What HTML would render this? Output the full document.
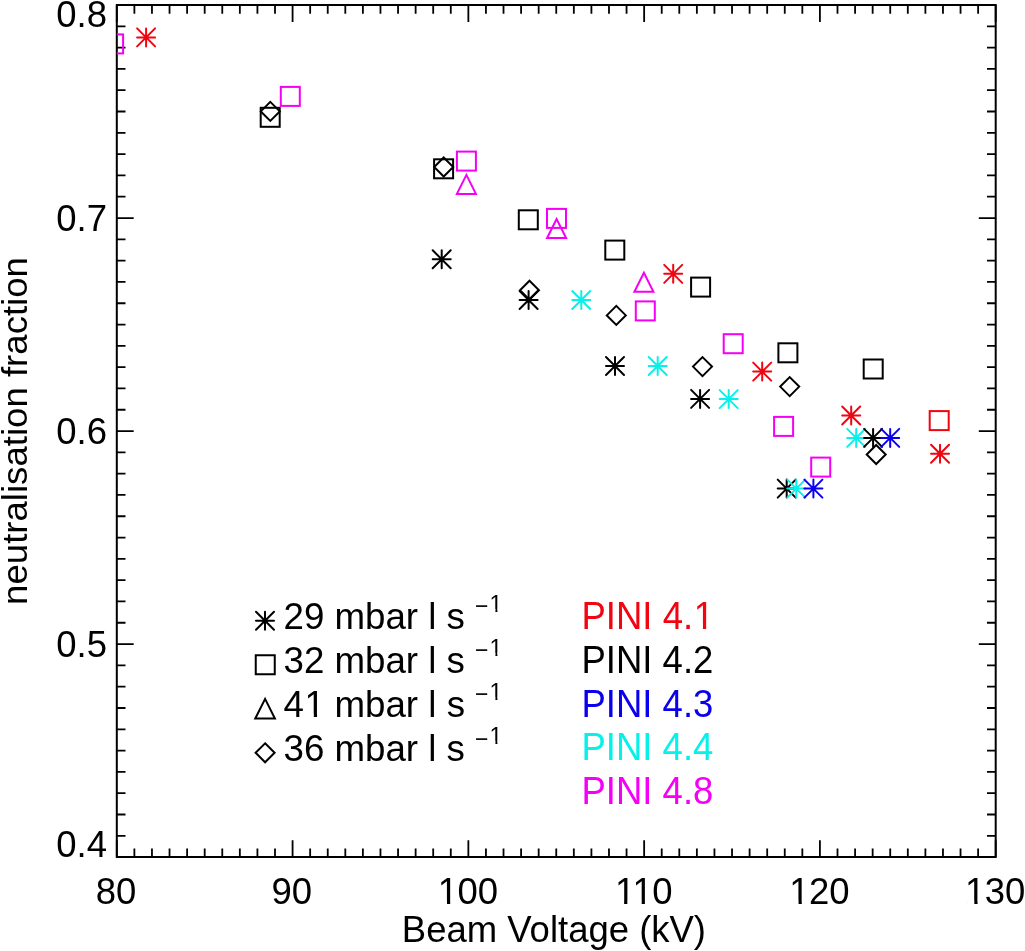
<!DOCTYPE html><html><head><meta charset="utf-8"><style>html,body{margin:0;padding:0;background:#fff;}svg{display:block;will-change:transform;}text{font-family:"Liberation Sans",sans-serif;}</style></head><body>
<svg width="1025" height="951" viewBox="0 0 1025 951">
<rect width="1025" height="951" fill="#fff"/>
<defs><clipPath id="pc"><rect x="116.8" y="5.0" width="878.9000000000001" height="852.1"/></clipPath></defs>
<path d="M116.80 857.1v-16.9M116.80 5.0v16.9M134.38 857.1v-8.7M134.38 5.0v8.7M151.96 857.1v-8.7M151.96 5.0v8.7M169.53 857.1v-8.7M169.53 5.0v8.7M187.11 857.1v-8.7M187.11 5.0v8.7M204.69 857.1v-8.7M204.69 5.0v8.7M222.27 857.1v-8.7M222.27 5.0v8.7M239.85 857.1v-8.7M239.85 5.0v8.7M257.42 857.1v-8.7M257.42 5.0v8.7M275.00 857.1v-8.7M275.00 5.0v8.7M292.58 857.1v-16.9M292.58 5.0v16.9M310.16 857.1v-8.7M310.16 5.0v8.7M327.74 857.1v-8.7M327.74 5.0v8.7M345.31 857.1v-8.7M345.31 5.0v8.7M362.89 857.1v-8.7M362.89 5.0v8.7M380.47 857.1v-8.7M380.47 5.0v8.7M398.05 857.1v-8.7M398.05 5.0v8.7M415.63 857.1v-8.7M415.63 5.0v8.7M433.20 857.1v-8.7M433.20 5.0v8.7M450.78 857.1v-8.7M450.78 5.0v8.7M468.36 857.1v-16.9M468.36 5.0v16.9M485.94 857.1v-8.7M485.94 5.0v8.7M503.52 857.1v-8.7M503.52 5.0v8.7M521.09 857.1v-8.7M521.09 5.0v8.7M538.67 857.1v-8.7M538.67 5.0v8.7M556.25 857.1v-8.7M556.25 5.0v8.7M573.83 857.1v-8.7M573.83 5.0v8.7M591.41 857.1v-8.7M591.41 5.0v8.7M608.98 857.1v-8.7M608.98 5.0v8.7M626.56 857.1v-8.7M626.56 5.0v8.7M644.14 857.1v-16.9M644.14 5.0v16.9M661.72 857.1v-8.7M661.72 5.0v8.7M679.30 857.1v-8.7M679.30 5.0v8.7M696.87 857.1v-8.7M696.87 5.0v8.7M714.45 857.1v-8.7M714.45 5.0v8.7M732.03 857.1v-8.7M732.03 5.0v8.7M749.61 857.1v-8.7M749.61 5.0v8.7M767.19 857.1v-8.7M767.19 5.0v8.7M784.76 857.1v-8.7M784.76 5.0v8.7M802.34 857.1v-8.7M802.34 5.0v8.7M819.92 857.1v-16.9M819.92 5.0v16.9M837.50 857.1v-8.7M837.50 5.0v8.7M855.08 857.1v-8.7M855.08 5.0v8.7M872.65 857.1v-8.7M872.65 5.0v8.7M890.23 857.1v-8.7M890.23 5.0v8.7M907.81 857.1v-8.7M907.81 5.0v8.7M925.39 857.1v-8.7M925.39 5.0v8.7M942.97 857.1v-8.7M942.97 5.0v8.7M960.54 857.1v-8.7M960.54 5.0v8.7M978.12 857.1v-8.7M978.12 5.0v8.7M995.70 857.1v-16.9M995.70 5.0v16.9M116.8 857.10h16.9M995.7 857.10h-16.9M116.8 835.80h8.7M995.7 835.80h-8.7M116.8 814.50h8.7M995.7 814.50h-8.7M116.8 793.19h8.7M995.7 793.19h-8.7M116.8 771.89h8.7M995.7 771.89h-8.7M116.8 750.59h8.7M995.7 750.59h-8.7M116.8 729.29h8.7M995.7 729.29h-8.7M116.8 707.98h8.7M995.7 707.98h-8.7M116.8 686.68h8.7M995.7 686.68h-8.7M116.8 665.38h8.7M995.7 665.38h-8.7M116.8 644.08h16.9M995.7 644.08h-16.9M116.8 622.77h8.7M995.7 622.77h-8.7M116.8 601.47h8.7M995.7 601.47h-8.7M116.8 580.17h8.7M995.7 580.17h-8.7M116.8 558.87h8.7M995.7 558.87h-8.7M116.8 537.56h8.7M995.7 537.56h-8.7M116.8 516.26h8.7M995.7 516.26h-8.7M116.8 494.96h8.7M995.7 494.96h-8.7M116.8 473.65h8.7M995.7 473.65h-8.7M116.8 452.35h8.7M995.7 452.35h-8.7M116.8 431.05h16.9M995.7 431.05h-16.9M116.8 409.75h8.7M995.7 409.75h-8.7M116.8 388.45h8.7M995.7 388.45h-8.7M116.8 367.14h8.7M995.7 367.14h-8.7M116.8 345.84h8.7M995.7 345.84h-8.7M116.8 324.54h8.7M995.7 324.54h-8.7M116.8 303.24h8.7M995.7 303.24h-8.7M116.8 281.93h8.7M995.7 281.93h-8.7M116.8 260.63h8.7M995.7 260.63h-8.7M116.8 239.33h8.7M995.7 239.33h-8.7M116.8 218.03h16.9M995.7 218.03h-16.9M116.8 196.72h8.7M995.7 196.72h-8.7M116.8 175.42h8.7M995.7 175.42h-8.7M116.8 154.12h8.7M995.7 154.12h-8.7M116.8 132.82h8.7M995.7 132.82h-8.7M116.8 111.51h8.7M995.7 111.51h-8.7M116.8 90.21h8.7M995.7 90.21h-8.7M116.8 68.91h8.7M995.7 68.91h-8.7M116.8 47.61h8.7M995.7 47.61h-8.7M116.8 26.30h8.7M995.7 26.30h-8.7M116.8 5.00h16.9M995.7 5.00h-16.9" fill="none" stroke="#000" stroke-width="1.8"/>
<path d="M116.8 5.0H995.7V857.1H116.8Z" fill="none" stroke="#000" stroke-width="2"/>
<text transform="translate(56.25,27.20) scale(1,1.037)" font-size="36.5">0.8</text>
<text transform="translate(56.25,231.00) scale(1,1.037)" font-size="36.5">0.7</text>
<text transform="translate(56.25,444.00) scale(1,1.037)" font-size="36.5">0.6</text>
<text transform="translate(56.25,657.00) scale(1,1.037)" font-size="36.5">0.5</text>
<text transform="translate(56.25,857.00) scale(1,1.037)" font-size="36.5">0.4</text>
<text transform="translate(95.70,904.40) scale(1,1.037)" font-size="36.5">80</text>
<text transform="translate(271.48,904.40) scale(1,1.037)" font-size="36.5">90</text>
<text transform="translate(437.11,904.40) scale(1,1.037)" font-size="36.5" dx="0.69 -0.69" clip-path="url(#k1)">100</text>
<text transform="translate(614.24,904.40) scale(1,1.037)" font-size="36.5" dx="0.69 0 -0.69" clip-path="url(#k2)">110</text>
<text transform="translate(788.67,904.40) scale(1,1.037)" font-size="36.5" dx="0.69 -0.69" clip-path="url(#k3)">120</text>
<text transform="translate(964.45,904.40) scale(1,1.037)" font-size="36.5" dx="0.69 -0.69" clip-path="url(#k4)">130</text>
<text transform="translate(401.84,942.00) scale(1,1.012)" font-size="36.5">Beam Voltage (kV)</text>
<text transform="translate(27.4,431) scale(1,1.052) rotate(-90)" font-size="34.8" text-anchor="middle">neutralisation fraction</text>
<g clip-path="url(#pc)">
<rect x="104.10" y="34.40" width="19.00" height="19.00" fill="none" stroke="#f500f5" stroke-width="2.0"/>
<path d="M137.10 37.40H155.10M146.10 28.40V46.40M137.10 28.40L155.10 46.40M137.10 46.40L155.10 28.40" fill="none" stroke="#f00510" stroke-width="2.0" stroke-linecap="round"/>
<rect x="260.70" y="107.80" width="19.00" height="19.00" fill="none" stroke="#000000" stroke-width="2.0"/>
<polygon points="270.30,101.90 279.80,111.40 270.30,120.90 260.80,111.40" fill="none" stroke="#000000" stroke-width="2.0"/>
<rect x="280.80" y="86.90" width="19.00" height="19.00" fill="none" stroke="#f500f5" stroke-width="2.0"/>
<rect x="434.10" y="159.30" width="19.00" height="19.00" fill="none" stroke="#000000" stroke-width="2.0"/>
<polygon points="443.70,157.50 453.20,167.00 443.70,176.50 434.20,167.00" fill="none" stroke="#000000" stroke-width="2.0"/>
<rect x="456.90" y="151.60" width="19.00" height="19.00" fill="none" stroke="#f500f5" stroke-width="2.0"/>
<polygon points="456.90,193.90 466.40,174.90 475.90,193.90" fill="none" stroke="#f500f5" stroke-width="2.0" stroke-linejoin="miter"/>
<path d="M432.70 259.30H450.70M441.70 250.30V268.30M432.70 250.30L450.70 268.30M432.70 268.30L450.70 250.30" fill="none" stroke="#000000" stroke-width="2.0" stroke-linecap="round"/>
<rect x="518.80" y="210.30" width="19.00" height="19.00" fill="none" stroke="#000000" stroke-width="2.0"/>
<rect x="547.00" y="208.90" width="19.00" height="19.00" fill="none" stroke="#f500f5" stroke-width="2.0"/>
<polygon points="547.10,238.00 556.60,219.00 566.10,238.00" fill="none" stroke="#f500f5" stroke-width="2.0" stroke-linejoin="miter"/>
<polygon points="529.50,280.70 539.00,290.20 529.50,299.70 520.00,290.20" fill="none" stroke="#000000" stroke-width="2.0"/>
<path d="M519.60 300.00H537.60M528.60 291.00V309.00M519.60 291.00L537.60 309.00M519.60 309.00L537.60 291.00" fill="none" stroke="#000000" stroke-width="2.0" stroke-linecap="round"/>
<path d="M572.30 300.00H590.30M581.30 291.00V309.00M572.30 291.00L590.30 309.00M572.30 309.00L590.30 291.00" fill="none" stroke="#08f0ea" stroke-width="2.0" stroke-linecap="round"/>
<rect x="605.30" y="240.60" width="19.00" height="19.00" fill="none" stroke="#000000" stroke-width="2.0"/>
<polygon points="634.40,291.70 643.90,272.70 653.40,291.70" fill="none" stroke="#f500f5" stroke-width="2.0" stroke-linejoin="miter"/>
<path d="M664.20 273.85H682.20M673.20 264.85V282.85M664.20 264.85L682.20 282.85M664.20 282.85L682.20 264.85" fill="none" stroke="#f00510" stroke-width="2.0" stroke-linecap="round"/>
<rect x="691.10" y="277.60" width="19.00" height="19.00" fill="none" stroke="#000000" stroke-width="2.0"/>
<rect x="635.80" y="301.40" width="19.00" height="19.00" fill="none" stroke="#f500f5" stroke-width="2.0"/>
<polygon points="616.30,305.90 625.80,315.40 616.30,324.90 606.80,315.40" fill="none" stroke="#000000" stroke-width="2.0"/>
<path d="M606.00 366.00H624.00M615.00 357.00V375.00M606.00 357.00L624.00 375.00M606.00 375.00L624.00 357.00" fill="none" stroke="#000000" stroke-width="2.0" stroke-linecap="round"/>
<path d="M648.70 366.00H666.70M657.70 357.00V375.00M648.70 357.00L666.70 375.00M648.70 375.00L666.70 357.00" fill="none" stroke="#08f0ea" stroke-width="2.0" stroke-linecap="round"/>
<polygon points="702.50,357.10 712.00,366.60 702.50,376.10 693.00,366.60" fill="none" stroke="#000000" stroke-width="2.0"/>
<path d="M691.10 398.90H709.10M700.10 389.90V407.90M691.10 389.90L709.10 407.90M691.10 407.90L709.10 389.90" fill="none" stroke="#000000" stroke-width="2.0" stroke-linecap="round"/>
<rect x="723.70" y="334.20" width="19.00" height="19.00" fill="none" stroke="#f500f5" stroke-width="2.0"/>
<rect x="778.40" y="343.30" width="19.00" height="19.00" fill="none" stroke="#000000" stroke-width="2.0"/>
<path d="M753.20 371.60H771.20M762.20 362.60V380.60M753.20 362.60L771.20 380.60M753.20 380.60L771.20 362.60" fill="none" stroke="#f00510" stroke-width="2.0" stroke-linecap="round"/>
<polygon points="789.70,377.10 799.20,386.60 789.70,396.10 780.20,386.60" fill="none" stroke="#000000" stroke-width="2.0"/>
<path d="M719.70 399.10H737.70M728.70 390.10V408.10M719.70 390.10L737.70 408.10M719.70 408.10L737.70 390.10" fill="none" stroke="#08f0ea" stroke-width="2.0" stroke-linecap="round"/>
<rect x="774.10" y="416.90" width="19.00" height="19.00" fill="none" stroke="#f500f5" stroke-width="2.0"/>
<path d="M842.20 415.50H860.20M851.20 406.50V424.50M842.20 406.50L860.20 424.50M842.20 424.50L860.20 406.50" fill="none" stroke="#f00510" stroke-width="2.0" stroke-linecap="round"/>
<path d="M847.20 437.90H865.20M856.20 428.90V446.90M847.20 428.90L865.20 446.90M847.20 446.90L865.20 428.90" fill="none" stroke="#08f0ea" stroke-width="2.0" stroke-linecap="round"/>
<path d="M864.10 437.90H882.10M873.10 428.90V446.90M864.10 428.90L882.10 446.90M864.10 446.90L882.10 428.90" fill="none" stroke="#000000" stroke-width="2.0" stroke-linecap="round"/>
<path d="M881.20 437.90H899.20M890.20 428.90V446.90M881.20 428.90L899.20 446.90M881.20 446.90L899.20 428.90" fill="none" stroke="#0a00ee" stroke-width="2.0" stroke-linecap="round"/>
<polygon points="876.20,445.00 885.70,454.50 876.20,464.00 866.70,454.50" fill="none" stroke="#000000" stroke-width="2.0"/>
<rect x="811.20" y="457.60" width="19.00" height="19.00" fill="none" stroke="#f500f5" stroke-width="2.0"/>
<path d="M777.70 488.60H795.70M786.70 479.60V497.60M777.70 479.60L795.70 497.60M777.70 497.60L795.70 479.60" fill="none" stroke="#000000" stroke-width="2.0" stroke-linecap="round"/>
<path d="M787.30 488.60H805.30M796.30 479.60V497.60M787.30 479.60L805.30 497.60M787.30 497.60L805.30 479.60" fill="none" stroke="#08f0ea" stroke-width="2.0" stroke-linecap="round"/>
<path d="M804.40 488.60H822.40M813.40 479.60V497.60M804.40 479.60L822.40 497.60M804.40 497.60L822.40 479.60" fill="none" stroke="#0a00ee" stroke-width="2.0" stroke-linecap="round"/>
<rect x="863.70" y="359.50" width="19.00" height="19.00" fill="none" stroke="#000000" stroke-width="2.0"/>
<rect x="929.70" y="411.10" width="19.00" height="19.00" fill="none" stroke="#f00510" stroke-width="2.0"/>
<path d="M931.05 453.80H949.05M940.05 444.80V462.80M931.05 444.80L949.05 462.80M931.05 462.80L949.05 444.80" fill="none" stroke="#f00510" stroke-width="2.0" stroke-linecap="round"/>
</g>
<path d="M256.00 620.80H274.00M265.00 611.80V629.80M256.00 611.80L274.00 629.80M256.00 629.80L274.00 611.80" fill="none" stroke="#000000" stroke-width="2.0" stroke-linecap="round"/>
<text transform="translate(283.50,628.90) scale(1,1.012)" font-size="36.7">29 mbar l s</text>
<text transform="translate(475.00,614.20) scale(1,1.037)" font-size="23" dx="0 1.21" dy="0 -2.51" clip-path="url(#k5)">−1</text>
<rect x="255.75" y="655.25" width="19.00" height="19.00" fill="none" stroke="#000000" stroke-width="2.0"/>
<text transform="translate(283.50,673.00) scale(1,1.012)" font-size="36.7">32 mbar l s</text>
<text transform="translate(475.00,658.30) scale(1,1.037)" font-size="23" dx="0 1.21" dy="0 -2.51" clip-path="url(#k6)">−1</text>
<polygon points="255.30,718.50 265.10,698.90 274.90,718.50" fill="none" stroke="#000000" stroke-width="2.0" stroke-linejoin="miter"/>
<text transform="translate(283.50,717.10) scale(1,1.012)" font-size="36.7" dx="0 0.7 -0.7" clip-path="url(#k7)">41 mbar l s</text>
<text transform="translate(475.00,702.40) scale(1,1.037)" font-size="23" dx="0 1.21" dy="0 -2.51" clip-path="url(#k8)">−1</text>
<polygon points="265.10,743.30 274.60,752.80 265.10,762.30 255.60,752.80" fill="none" stroke="#000000" stroke-width="2.0"/>
<text transform="translate(283.50,761.20) scale(1,1.012)" font-size="36.7">36 mbar l s</text>
<text transform="translate(475.00,746.50) scale(1,1.037)" font-size="23" dx="0 1.21" dy="0 -2.51" clip-path="url(#k9)">−1</text>
<text transform="translate(581.50,628.70) scale(1,1.045)" font-size="36.5" fill="#f00510" dx="0 0 0 0 0 0 0 0.69" clip-path="url(#k10)">PINI 4.1</text>
<text transform="translate(581.50,672.60) scale(1,1.045)" font-size="36.5" fill="#000000">PINI 4.2</text>
<text transform="translate(581.50,716.50) scale(1,1.045)" font-size="36.5" fill="#0a00ee">PINI 4.3</text>
<text transform="translate(581.50,760.40) scale(1,1.045)" font-size="36.5" fill="#08f0ea">PINI 4.4</text>
<text transform="translate(581.50,804.30) scale(1,1.045)" font-size="36.5" fill="#f500f5">PINI 4.8</text>
<defs><clipPath id="k1"><path clip-rule="evenodd" d="M-30 -100H120.91V40H-30ZM2.67 -3.53H9.87V8H2.67ZM13.1 -3.53H20.01V8H13.1Z"/></clipPath><clipPath id="k2"><path clip-rule="evenodd" d="M-30 -100H118.2V40H-30ZM2.67 -3.53H9.87V8H2.67ZM13.1 -3.53H20.01V8H13.1ZM20.25 -3.53H27.45V8H20.25ZM30.68 -3.53H37.59V8H30.68Z"/></clipPath><clipPath id="k3"><path clip-rule="evenodd" d="M-30 -100H120.91V40H-30ZM2.67 -3.53H9.87V8H2.67ZM13.1 -3.53H20.01V8H13.1Z"/></clipPath><clipPath id="k4"><path clip-rule="evenodd" d="M-30 -100H120.91V40H-30ZM2.67 -3.53H9.87V8H2.67ZM13.1 -3.53H20.01V8H13.1Z"/></clipPath><clipPath id="k5"><path clip-rule="evenodd" d="M-30 -100H86.23V40H-30ZM15.58 -5.03H20.41V5.49H15.58ZM22.44 -5.03H27.1V5.49H22.44Z"/></clipPath><clipPath id="k6"><path clip-rule="evenodd" d="M-30 -100H86.23V40H-30ZM15.58 -5.03H20.41V5.49H15.58ZM22.44 -5.03H27.1V5.49H22.44Z"/></clipPath><clipPath id="k7"><path clip-rule="evenodd" d="M-30 -100H241.47V40H-30ZM23.08 -3.54H30.32V8H23.08ZM33.56 -3.54H40.51V8H33.56Z"/></clipPath><clipPath id="k8"><path clip-rule="evenodd" d="M-30 -100H86.23V40H-30ZM15.58 -5.03H20.41V5.49H15.58ZM22.44 -5.03H27.1V5.49H22.44Z"/></clipPath><clipPath id="k9"><path clip-rule="evenodd" d="M-30 -100H86.23V40H-30ZM15.58 -5.03H20.41V5.49H15.58ZM22.44 -5.03H27.1V5.49H22.44Z"/></clipPath><clipPath id="k10"><path clip-rule="evenodd" d="M-30 -100H191.88V40H-30ZM114.24 -3.53H121.43V8H114.24ZM124.66 -3.53H131.57V8H124.66Z"/></clipPath></defs>
</svg></body></html>
